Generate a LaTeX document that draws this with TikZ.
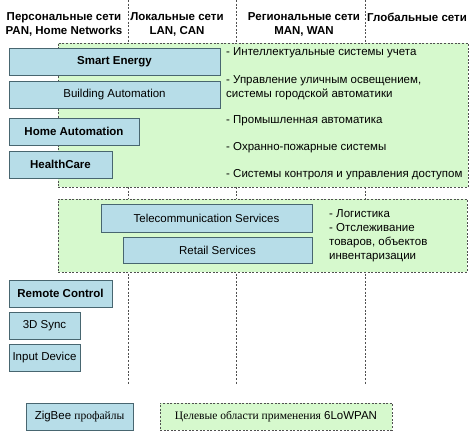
\documentclass[tikz,border=0pt]{standalone}
\usepackage{fontspec}
\setmainfont{Liberation Sans}
\newfontfamily\serifru{Liberation Serif}
\usepackage{tikz}
\definecolor{profblue}{RGB}{183,221,232}
\definecolor{profedge}{RGB}{72,102,112}
\definecolor{areagreen}{RGB}{214,249,205}
\definecolor{sepgray}{RGB}{80,80,80}
\tikzstyle{profile} = [rectangle, draw=profedge, line width=0.9pt, fill=profblue, inner sep=0pt, text centered, font=\fontsize{11.5}{13}\selectfont]
\tikzstyle{area} = [rectangle, draw=sepgray, dash pattern=on 2pt off 1.6pt, line width=0.8pt, fill=areagreen, inner sep=0pt]
\tikzstyle{sep} = [draw=sepgray, dash pattern=on 2pt off 1.6pt, line width=0.8pt]
\tikzstyle{head} = [align=center, inner sep=0pt, font=\fontsize{11.5}{14}\selectfont\bfseries]
\tikzstyle{item} = [anchor=west, inner sep=0pt, align=left, font=\fontsize{11.5}{14}\selectfont]

\begin{document}
\begin{tikzpicture}[x=1pt, y=-1pt]
      \useasboundingbox (0,0) rectangle (474,432);
      % column separators
      \foreach \sx in {128,236,365}
        \draw [sep] (\sx,0) -- (\sx,385);
      % headers
      \node (pan) [head] at (64,24) {Персональные сети\\PAN, Home Networks};
      \node (lan) [head] at (177,24) {Локальные сети\\LAN, CAN};
      \node (man) [head] at (304,24) {Региональные сети\\MAN, WAN};
      \node (wan) [head] at (417,17) {Глобальные сети};
      % application areas
      \node (area1) [area, minimum width=410, minimum height=144] at (263,115) {};
      \node (area2) [area, minimum width=409, minimum height=73] at (262.5,235.5) {};
      \node (it1) [item] at (226,53) {- Интеллектуальные системы учета};
      \node (it2) [item] at (226,88) {- Управление уличным освещением,\\системы городской автоматики};
      \node (it3) [item] at (226,121) {- Промышленная автоматика};
      \node (it4) [item] at (226,148) {- Охранно-пожарные системы};
      \node (it5) [item] at (226,175) {- Системы контроля и управления доступом};
      \node (it6) [item] at (329,236) {- Логистика\\- Отслеживание\\товаров, объектов\\инвентаризации};
      % ZigBee profiles
      \node (smart) [profile, minimum width=211, minimum height=27] at (114.5,61.5) {\bfseries Smart Energy};
      \node (build) [profile, minimum width=211, minimum height=27] at (114.5,94.5) {Building Automation};
      \node (home) [profile, minimum width=130, minimum height=27] at (74,131.5) {\bfseries Home Automation};
      \node (health) [profile, minimum width=103, minimum height=27] at (60.5,164.5) {\bfseries HealthCare};
      \node (telecom) [profile, minimum width=211, minimum height=28] at (206.5,218) {Telecommunication Services};
      \node (retail) [profile, minimum width=189, minimum height=26] at (217.5,250) {Retail Services};
      \node (remote) [profile, minimum width=103, minimum height=27] at (60.5,293.5) {\bfseries Remote Control};
      \node (sync) [profile, minimum width=71, minimum height=27] at (44.5,325.5) {3D Sync};
      \node (input) [profile, minimum width=71, minimum height=27] at (44.5,357.5) {Input Device};
      % legend
      \node (keyzb) [profile, minimum width=107, minimum height=27] at (79.5,416.5) {ZigBee {\serifru профайлы}};
      \node (keyarea) [area, minimum width=232, minimum height=27, font=\fontsize{11.5}{13}\selectfont] at (276,416.5) {{\serifru Целевые области применения} 6LoWPAN};
    \end{tikzpicture}
\end{document}
